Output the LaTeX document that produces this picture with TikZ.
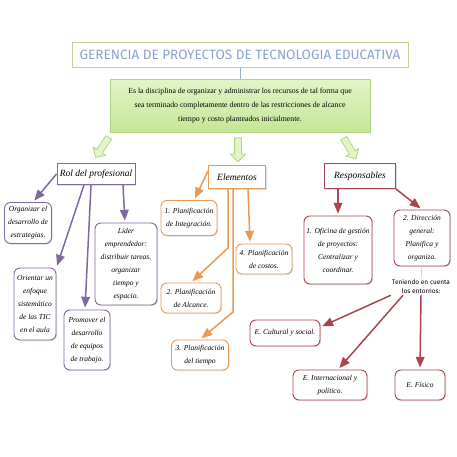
\documentclass[tikz,border=0pt]{standalone}
\usepackage{fontspec}
\setmainfont{Liberation Serif}
\newfontfamily\titlefont{Fira Sans}
\usepackage{tikz}
\usetikzlibrary{arrows}
\usetikzlibrary{shapes.arrows}
\usetikzlibrary{shadows}
\definecolor{rolcol}{RGB}{128,104,160}
\definecolor{elecol}{RGB}{232,154,84}
\definecolor{rescol}{RGB}{172,68,78}
\definecolor{defline}{RGB}{178,214,128}
\definecolor{deftop}{RGB}{226,244,200}
\definecolor{defbot}{RGB}{196,230,150}
\definecolor{titleline}{RGB}{196,208,148}
\definecolor{titletext}{RGB}{140,162,204}
\definecolor{thinline}{RGB}{150,176,210}

\begin{document}
\begin{tikzpicture}[x=1pt,y=-1pt,
    box/.style={draw,fill=white,line width=0.9pt,align=center,inner sep=2pt,
      drop shadow={opacity=0.25,shadow xshift=1pt,shadow yshift=-1pt}},
    catbox/.style={box,font=\itshape\fontsize{9.5}{11}\selectfont},
    kid/.style={box,rounded corners=6pt,font=\itshape\fontsize{7.5}{13}\selectfont},
    rolkid/.style={kid,draw=rolcol},
    elekid/.style={kid,draw=elecol},
    reskid/.style={kid,draw=rescol},
    arr/.style={line width=1.5pt,-triangle 45,shorten >=2pt},
    bigarrow/.style={single arrow,draw=defline,fill=deftop,line width=0.8pt,
      minimum height=24pt,inner sep=3pt,single arrow head extend=4pt}]
    \useasboundingbox[fill=white] (0,0) rectangle (457,457);

    \node[box,draw=titleline,minimum width=336,minimum height=25,
      font=\titlefont\fontsize{13.5}{15}\selectfont,text=titletext]
      (titulo) at (240,55) {GERENCIA DE PROYECTOS DE TECNOLOGIA EDUCATIVA};
    \node[draw=defline,line width=0.8pt,top color=deftop,bottom color=defbot,
      minimum width=260,minimum height=53,align=center,
      font=\fontsize{7.8}{14}\selectfont,
      drop shadow={opacity=0.25,shadow xshift=1pt,shadow yshift=-1pt}]
      (def) at (240,106) {Es la disciplina de organizar y administrar los recursos de tal forma que\\
      sea terminado completamente dentro de las restricciones de alcance\\
      tiempo y costo planteados inicialmente.};
    \draw[thinline] (titulo) -- (def);

    \node[catbox,draw=rolcol,minimum width=78,minimum height=21] (rol) at (96,174) {Rol del profesional};
    \node[catbox,draw=elecol,minimum width=57,minimum height=23] (elem) at (237,177) {Elementos};
    \node[catbox,draw=rescol,minimum width=71,minimum height=25] (resp) at (360,176) {Responsables};

    \node[bigarrow,rotate=-124] (flecharol) at (103,146) {};
    \node[bigarrow,rotate=-90] (flechaelem) at (238,148) {};
    \node[bigarrow,rotate=-59] (flecharesp) at (349,147) {};

    % rol del profesional
    \node[rolkid,minimum width=47,minimum height=41] (organizar) at (28,223) {Organizar el\\desarrollo de\\estrategias.};
    \node[rolkid,minimum width=42,minimum height=72] (orientar) at (35,304) {Orientar un\\enfoque\\sistemático\\de las TIC\\en el aula};
    \node[rolkid,minimum width=46,minimum height=60] (promover) at (87,340) {Promover el\\desarrollo\\de equipos\\de trabajo.};
    \node[rolkid,minimum width=62,minimum height=82] (lider) at (126,264) {Líder\\emprendedor:\\distribuir tareas,\\organizar\\tiempo y\\espacio.};
    \draw[arr,rolcol] (rol.west) -- ([xshift=5]organizar.north);
    \draw[arr,rolcol] ([xshift=-12]rol.south) -- (orientar.north east);
    \draw[arr,rolcol] ([xshift=-5]rol.south) -- ([xshift=-2]promover.north);
    \draw[arr,rolcol] ([xshift=27]rol.south) -- ([xshift=-1]lider.north);

    % elementos
    \node[elekid,minimum width=56,minimum height=35] (integracion) at (189,218) {1. Planificación\\de Integración.};
    \node[elekid,minimum width=60,minimum height=30] (alcance) at (191,298) {2. Planificación\\de Alcance.};
    \node[elekid,minimum width=57,minimum height=30] (tiempo) at (200,355) {3. Planificación\\del tiempo};
    \node[elekid,minimum width=56,minimum height=30] (costos) at (264,259) {4. Planificación\\de costos.};
    \coordinate (codoalc) at (228,248);
    \coordinate (codotie) at (233,312);
    \draw[arr,elecol] ([yshift=6]elem.west) -- ([xshift=5]integracion.north);
    \draw[arr,elecol] ([xshift=-9]elem.south) -- (codoalc) -- (alcance.north);
    \draw[arr,elecol] ([xshift=-4]elem.south) -- (codotie) -- (tiempo.north);
    \draw[arr,elecol] ([xshift=11]elem.south) -- ([xshift=-14]costos.north);

    % responsables
    \node[reskid,minimum width=68,minimum height=68] (oficina) at (338,250) {1. Oficina de gestión\\de proyectos:\\Centralizar y\\coordinar.};
    \node[reskid,minimum width=56,minimum height=56] (direccion) at (422,238) {2. Dirección\\general:\\Planifica y\\organiza.};
    \node[align=center,inner sep=1pt,font=\titlefont\fontsize{6.5}{9}\selectfont] (entornos) at (421,287) {Teniendo en cuenta\\los entornos:};
    \node[reskid,minimum width=70,minimum height=26] (cultural) at (285,333) {E. Cultural y social.};
    \node[reskid,minimum width=74,minimum height=30] (internacional) at (330,385) {E. Internacional y\\político.};
    \node[reskid,minimum width=50,minimum height=30] (fisico) at (420,385) {E. Físico};
    \draw[arr,rescol] ([xshift=-22]resp.south) -- (oficina.north);
    \draw[arr,rescol] (resp.south east) -- (direccion.north);
    \draw[thinline] (direccion.south) -- (entornos.north);
    \draw[arr,rescol] (entornos.south west) -- ([yshift=6]cultural.east);
    \draw[arr,rescol] ([xshift=-18]entornos.south) -- ([xshift=8]internacional.north);
    \draw[arr,rescol] (entornos.south) -- (fisico.north);
\end{tikzpicture}
\end{document}
